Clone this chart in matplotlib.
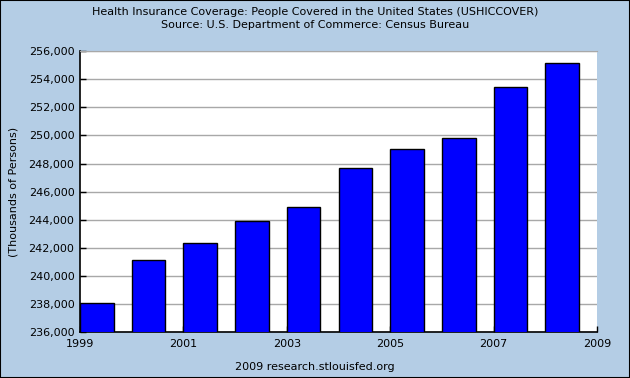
import matplotlib.pyplot as plt
from matplotlib.patches import Rectangle

years = [1999, 2000, 2001, 2002, 2003, 2004, 2005, 2006, 2007, 2008]
covered = [238060, 241120, 242330, 243890, 244880, 247660, 249010, 249790, 253410, 255120]
yticks = list(range(236000, 256001, 2000))
xticks = [1999, 2001, 2003, 2005, 2007, 2009]

bg = '#B4CDE5'
plt.rcParams['font.family'] = 'DejaVu Sans'

fig = plt.figure(figsize=(6.3, 3.78), dpi=100, facecolor=bg)
ax = fig.add_axes([80 / 630, 1 - 332.3 / 378, 517 / 630, 281.3 / 378])

ax.bar(years, covered, width=0.65, align='edge', color='#0000FF',
       edgecolor='black', linewidth=1.0, zorder=3)

ax.set_xlim(1999, 2009)
ax.set_ylim(236000, 256000)
ax.set_yticks(yticks)
ax.set_yticklabels([f'{v:,}' for v in yticks])
ax.set_xticks(xticks)
ax.grid(axis='y', color='#A8A8A8', linewidth=1.0, zorder=1)
ax.tick_params(direction='in', length=4, width=1, labelsize=8, pad=4, colors='black')
ax.tick_params(axis='x', pad=5)

ax.spines['top'].set_color('#A8A8A8')
ax.spines['right'].set_visible(False)
for s in ['left', 'bottom']:
    ax.spines[s].set_linewidth(1.2)

ax.set_ylabel('(Thousands of Persons)', fontsize=8, labelpad=7)

fig.text(0.5, 1 - 12 / 378, 'Health Insurance Coverage: People Covered in the United States (USHICCOVER)',
         ha='center', va='center', fontsize=8)
fig.text(0.5, 1 - 25.5 / 378, 'Source: U.S. Department of Commerce: Census Bureau',
         ha='center', va='center', fontsize=8)
fig.text(0.5, 1 - 366.5 / 378, '2009 research.stlouisfed.org',
         ha='center', va='center', fontsize=8)

fig.patches.append(Rectangle((0, 0), 1, 1, transform=fig.transFigure, fill=False,
                             edgecolor='black', linewidth=1.5))

fig.savefig('out.png', dpi=100, facecolor=bg)
